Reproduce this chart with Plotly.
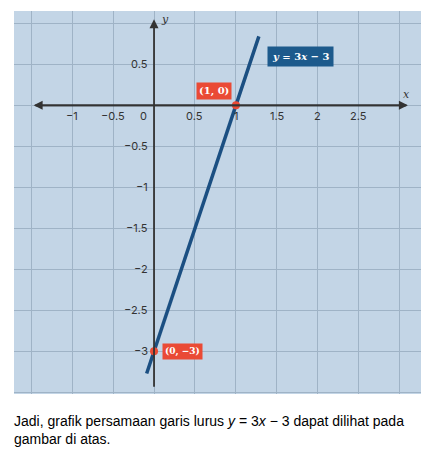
import plotly.graph_objects as go

line_x = [-0.09, 1.28]
slope, intercept = 3, -3
pts_x = [1, 0]
pts_y = [0, -3]
xticks = [-1, -0.5, 0, 0.5, 1, 1.5, 2, 2.5]
xtick_text = ["−1", "−0.5", "0", "0.5", "1", "1.5", "2", "2.5"]
yticks = [0.5, -0.5, -1, -1.5, -2, -2.5, -3]
ytick_text = ["0.5", "−0.5", "−1", "−1.5", "−2", "−2.5", "−3"]

line_y = [slope * v + intercept for v in line_x]
fig = go.Figure()
fig.add_trace(go.Scatter(x=line_x, y=line_y, mode="lines",
                         line=dict(color="#1b4f82", width=3.5), hoverinfo="skip"))
fig.add_trace(go.Scatter(x=pts_x, y=pts_y, mode="markers",
                         marker=dict(color="#ea4a35", size=8), hoverinfo="skip"))

X0, X1, Y0, Y1 = -1.71, 3.26, -3.52, 1.15
ann = []
ann.append(dict(x=3.1, y=0, ax=-1.47, ay=0, xref="x", yref="y", axref="x", ayref="y",
                showarrow=True, arrowhead=2, arrowsize=1, arrowwidth=1.8, arrowcolor="#333", text=""))
ann.append(dict(x=-1.47, y=0, ax=3.1, ay=0, xref="x", yref="y", axref="x", ayref="y",
                showarrow=True, arrowhead=2, arrowsize=1, arrowwidth=1.8, arrowcolor="#333", text=""))
ann.append(dict(x=0, y=1.05, ax=0, ay=-3.45, xref="x", yref="y", axref="x", ayref="y",
                showarrow=True, arrowhead=2, arrowsize=1, arrowwidth=1.8, arrowcolor="#333", text=""))
ann.append(dict(x=0.13, y=1.05, text="<i>y</i>", showarrow=False, font=dict(family="DejaVu Serif", size=11, color="#333")))
ann.append(dict(x=3.08, y=0.13, text="<i>x</i>", showarrow=False, font=dict(family="DejaVu Serif", size=11, color="#333")))
for v, t in zip(xticks, xtick_text):
    ann.append(dict(x=v - (0.13 if v == 0 else 0), y=-0.13, text=t, showarrow=False,
                    font=dict(family="Inter", size=11, color="#333")))
for v, t in zip(yticks, ytick_text):
    ann.append(dict(x=-0.05, y=v, text=t, showarrow=False, xanchor="right",
                    font=dict(family="Inter", size=11, color="#333")))
ann.append(dict(x=0.95, y=0.18, text="<b>(1, 0)</b>", showarrow=False, xanchor="right",
                bgcolor="#ea4a35", font=dict(family="DejaVu Serif", size=10, color="white"), borderpad=2))
ann.append(dict(x=0.1, y=-3, text="<b>(0, −3)</b>", showarrow=False, xanchor="left",
                bgcolor="#ea4a35", font=dict(family="DejaVu Serif", size=9, color="white"), borderpad=2))
ann.append(dict(x=1.38, y=0.6, text="<b><i>y</i> = 3<i>x</i> − 3</b>", showarrow=False, xanchor="left",
                bgcolor="#1d5a8c", font=dict(family="DejaVu Serif", size=10, color="white"), borderpad=4))
ann.append(dict(x=-0.005, y=-0.045, xref="paper", yref="paper", xanchor="left", yanchor="top", align="left",
                showarrow=False, font=dict(family="Liberation Sans", size=14, color="black"),
                text="Jadi, grafik persamaan garis lurus <i>y</i> = 3<i>x</i> − 3 dapat dilihat pada<br>gambar di atas."))

fig.update_layout(
    width=437, height=463, margin=dict(l=6, r=24, t=3, b=77),
    paper_bgcolor="white", plot_bgcolor="#c3d5e6", showlegend=False,
    annotations=ann,
    xaxis=dict(range=[X0, X1], dtick=0.5, tick0=0, showgrid=True, gridcolor="#9fb3c6", gridwidth=1,
               zeroline=False, showticklabels=False, fixedrange=True),
    yaxis=dict(range=[Y0, Y1], dtick=0.5, tick0=0, showgrid=True, gridcolor="#9fb3c6", gridwidth=1,
               zeroline=False, showticklabels=False, fixedrange=True),
)
fig.write_html("out.html")
